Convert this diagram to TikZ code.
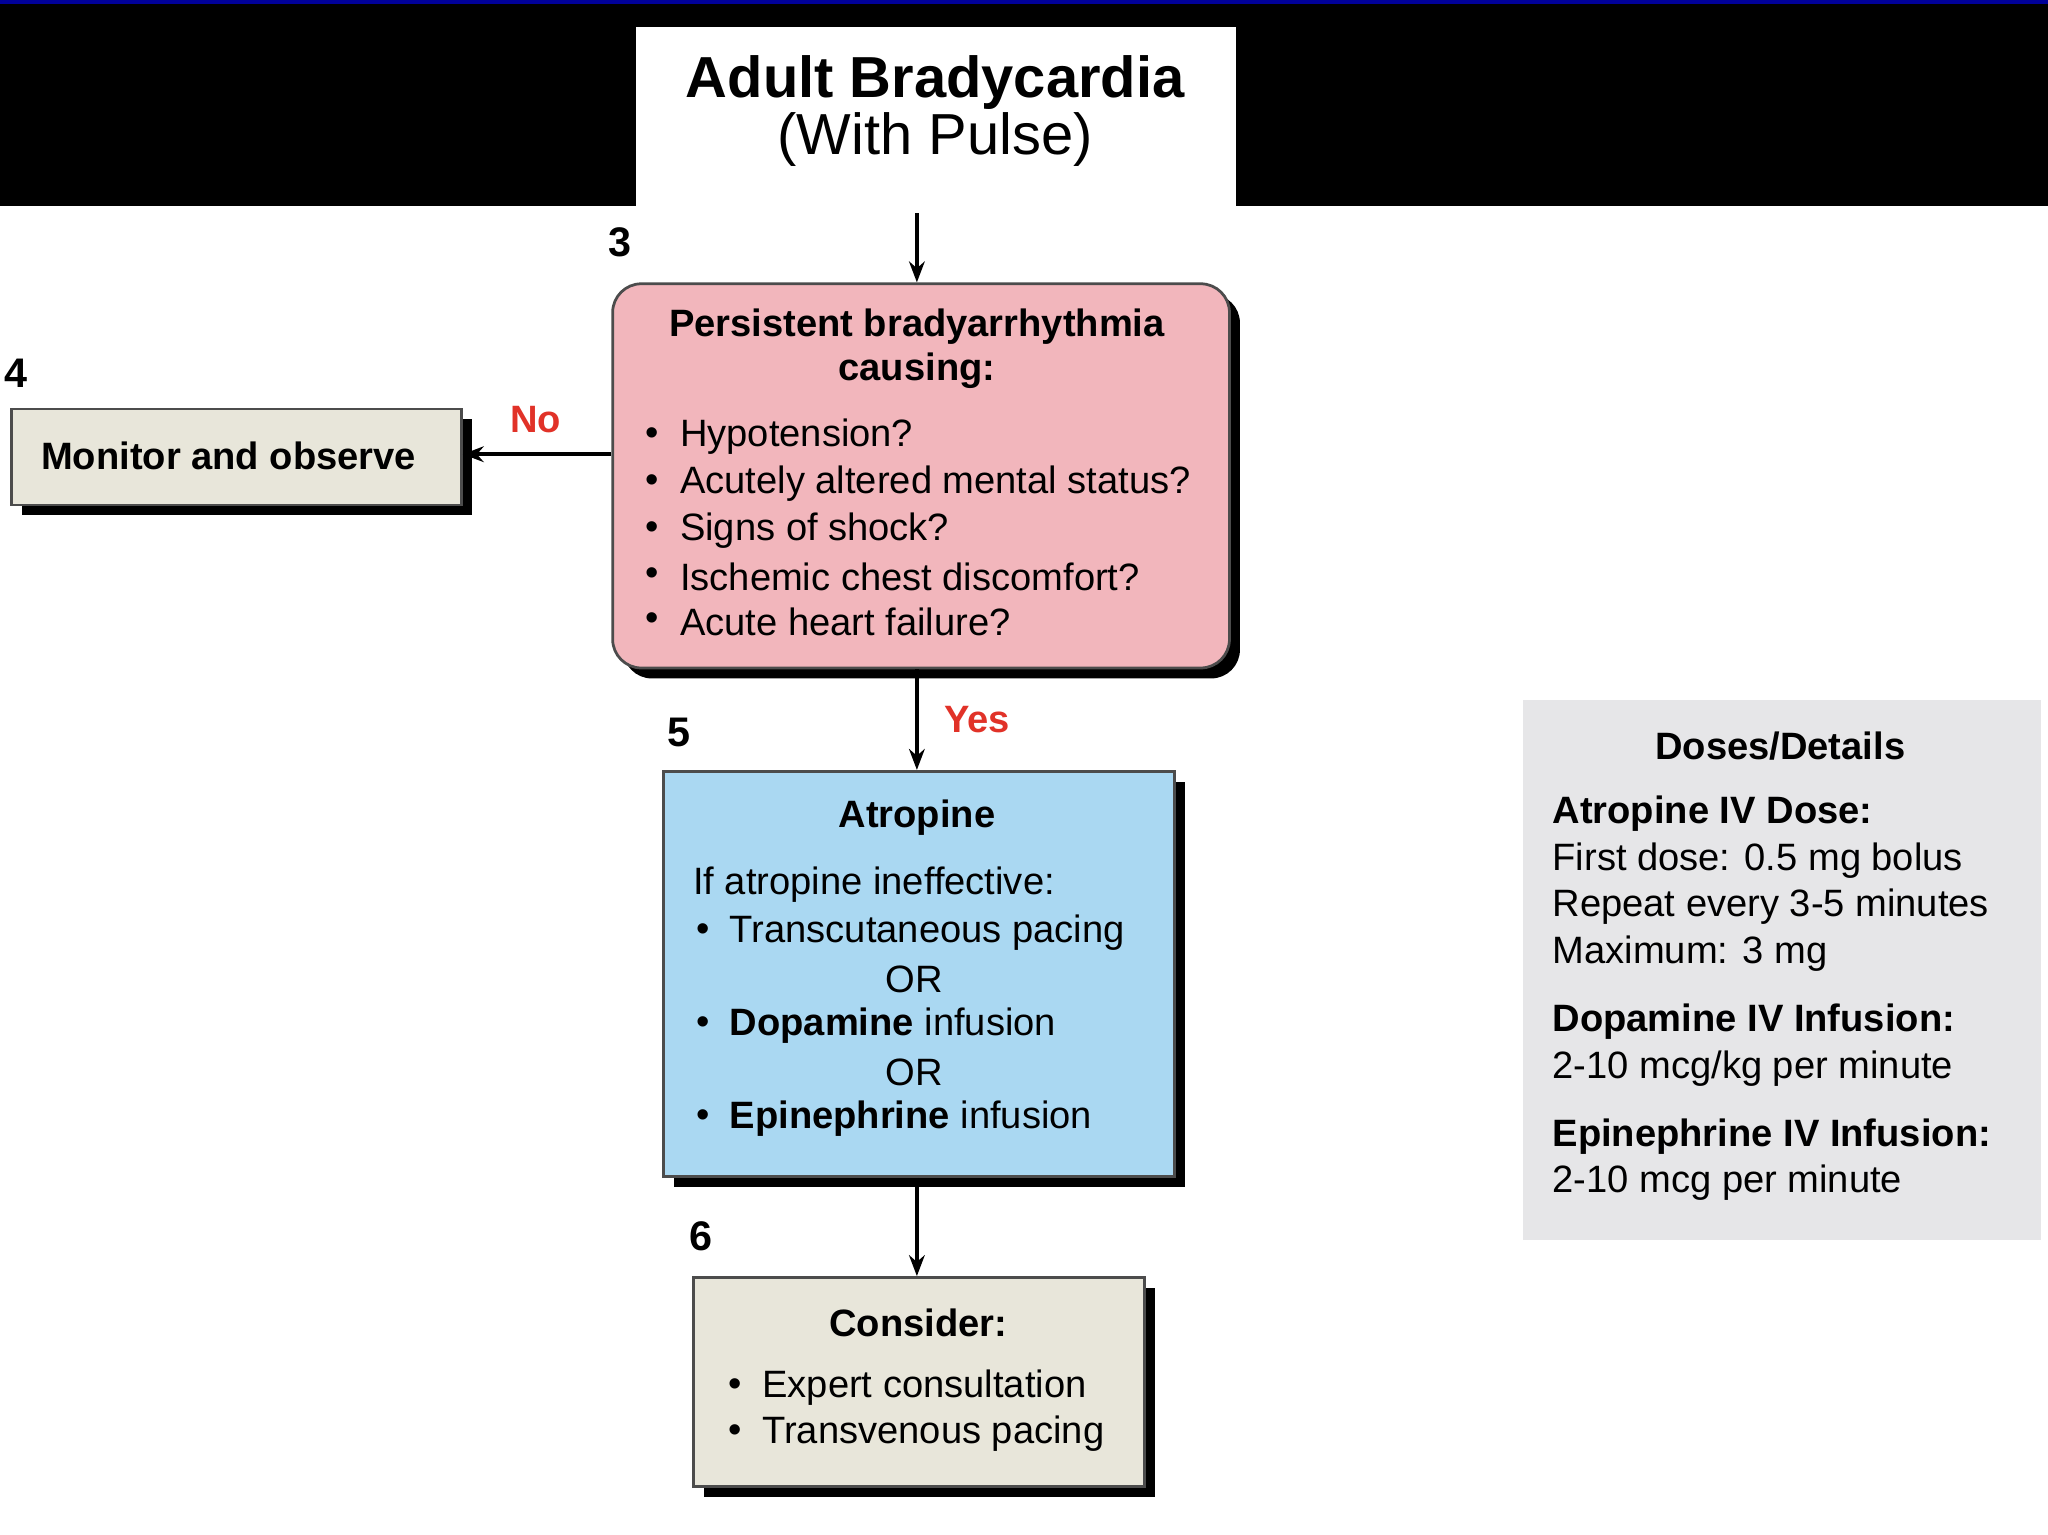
\documentclass[tikz,border=0pt]{standalone}
\usepackage{fontspec}
\setmainfont{Liberation Sans}
\usetikzlibrary{shadows,arrows.meta}
\definecolor{pinkf}{RGB}{242,182,188}
\definecolor{bluef}{RGB}{170,216,242}
\definecolor{beigef}{RGB}{232,230,218}
\definecolor{grayf}{RGB}{230,230,232}
\definecolor{redt}{RGB}{225,50,40}
\begin{document}
\begin{tikzpicture}[x=0.01cm,y=-0.0102cm,
  box/.style={draw=black!70,line width=0.6pt,inner sep=0pt,anchor=north west,drop shadow={shadow xshift=0.08cm,shadow yshift=-0.08cm,fill=black,opacity=1}},
  t/.style={font=\fontsize{8.3}{10}\selectfont,inner sep=0pt},
  tb/.style={t,font=\fontsize{8.3}{10}\selectfont\bfseries},
  w/.style={t,anchor=west},
  wb/.style={tb,anchor=west},
  num/.style={font=\fontsize{9}{10}\selectfont\bfseries,inner sep=0pt},
  lab/.style={font=\fontsize{8.3}{10}\selectfont\bfseries,text=redt,inner sep=0pt},
  arr/.style={-{Stealth[length=0.16cm,width=0.12cm]},line width=0.9pt}]
\useasboundingbox (0,0) rectangle (1568,1152);
\fill[black] (0,0) rectangle (1568,155);
\fill[blue!60!black] (0,0) rectangle (1568,3);
\fill[white] (487,20) rectangle (946,155);
\node[font=\fontsize{12.6}{14}\selectfont\bfseries,inner sep=0pt] (title1) at (716,62) {Adult Bradycardia};
\node[font=\fontsize{12.6}{14}\selectfont,inner sep=0pt] (title2) at (716,105) {(With Pulse)};
\coordinate (start) at (702,160);
% boxes
\node[box,fill=pinkf,rounded corners=0.22cm,minimum width=4.72cm,minimum height=2.94cm] (pink) at (468,212) {};
\node[box,fill=beigef,minimum width=3.44cm,minimum height=0.734cm] (mon) at (8,306) {};
\node[box,fill=bluef,minimum width=3.91cm,minimum height=3.10cm] (blue) at (507,578) {};
\node[box,fill=beigef,minimum width=3.45cm,minimum height=1.60cm] (cons) at (530,958) {};
\node[fill=grayf,inner sep=0pt,anchor=north west,minimum width=3.97cm,minimum height=4.13cm] (doses) at (1165,525) {};
% numbers
\node[num] (n3) at (475,182) {3};
\node[num] (n4) at (12,280) {4};
\node[num] (n5) at (520,550) {5};
\node[num] (n6) at (537,928) {6};
% arrows
\draw[arr] (start) -- (pink.north -| start);
\draw[arr] (pink.west |- 0,341) -- (mon.east |- 0,341);
\draw[arr] (pink.south -| start) -- (blue.north -| start);
\draw[arr] (blue.south -| start) -- (cons.north -| start);
\node[lab] (no) at (410,315) {No};
\node[lab] (yes) at (748,540) {Yes};
% monitor text
\node[tb] (mt) at (175,342) {Monitor and observe};
% pink text
\node[tb] (p1) at (702,245) {Persistent bradyarrhythmia};
\node[tb] (p2) at (702,278) {causing:};
\foreach \y/\s [count=\i] in {328/Hypotension?,363/Acutely altered mental status?,398/Signs of shock?,433/Ischemic chest discomfort?,467/Acute heart failure?}{
  \node[t] (pb\i) at (499,\y) {\textbullet};
  \node[w] (pt\i) at (520,\y) {\s};
}
% blue text
\node[tb] (b1) at (702,614) {Atropine};
\node[w] (b2) at (530,664) {If atropine ineffective:};
\node[t] (bb1) at (538,700) {\textbullet};
\node[w] (b3) at (558,700) {Transcutaneous pacing};
\node[t] (or1) at (700,735) {OR};
\node[t] (bb2) at (538,770) {\textbullet};
\node[w] (b4) at (558,770) {\textbf{Dopamine} infusion};
\node[t] (or2) at (700,805) {OR};
\node[t] (bb3) at (538,840) {\textbullet};
\node[w] (b5) at (558,840) {\textbf{Epinephrine} infusion};
% consider text
\node[tb] (c1) at (703,993) {Consider:};
\node[t] (cb1) at (563,1042) {\textbullet};
\node[w] (c2) at (583,1042) {Expert consultation};
\node[t] (cb2) at (563,1076) {\textbullet};
\node[w] (c3) at (583,1076) {Transvenous pacing};
% doses text
\node[tb] (d0) at (1363,560) {Doses/Details};
\node[wb] (d1) at (1188,611) {Atropine IV Dose:};
\node[w] (d2) at (1188,646) {First dose: 0.5 mg bolus};
\node[w] (d3) at (1188,681) {Repeat every 3-5 minutes};
\node[w] (d4) at (1188,716) {Maximum: 3 mg};
\node[wb] (d5) at (1188,767) {Dopamine IV Infusion:};
\node[w] (d6) at (1188,802) {2-10 mcg/kg per minute};
\node[wb] (d7) at (1188,853) {Epinephrine IV Infusion:};
\node[w] (d8) at (1188,888) {2-10 mcg per minute};
\end{tikzpicture}
\end{document}
